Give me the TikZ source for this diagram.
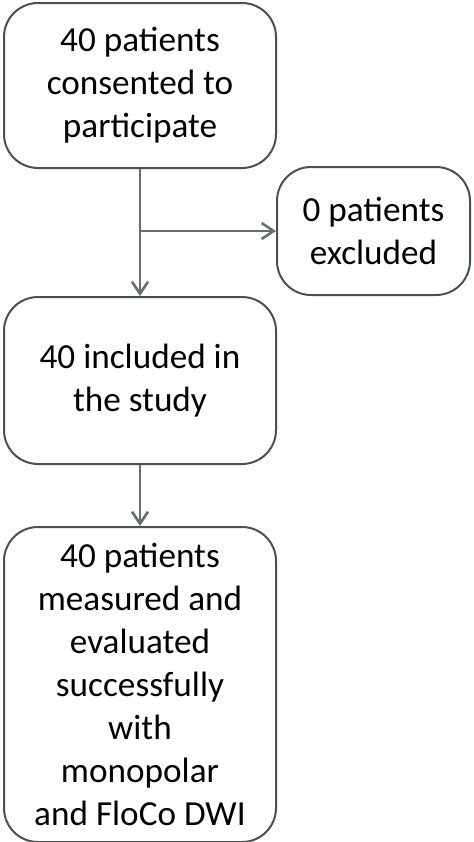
\documentclass[tikz,border=0pt]{standalone}
\usepackage{fontspec}
\setmainfont{Carlito}
\usetikzlibrary{positioning, arrows.meta}
\definecolor{boxline}{RGB}{75,80,80}
\definecolor{arrline}{RGB}{100,112,112}

\begin{document}
\begin{tikzpicture}[>={Straight Barb[length=6pt,width=8pt]},line width=1.3pt,
    box/.style={draw=boxline, line width=1pt, rounded corners=17pt, align=center,
        minimum width=136pt, font=\fontsize{17.6}{21.5}\selectfont},
    flow/.style={->, draw=arrline}]

    \useasboundingbox (0,0) rectangle (237pt,-421pt);

    \node[box, minimum height=82.5pt] (consent) at (70pt,-42.75pt) {40 patients\\consented to\\participate};
    \node[box, minimum height=83.5pt] (included) [below=63.5pt of consent] {40 included in\\the study};
    \node[box, minimum height=157.5pt] (measured) [below=30.5pt of included] {40 patients\\measured and\\evaluated\\successfully\\with\\monopolar\\and FloCo DWI};
    \node[box, minimum width=96.5pt, minimum height=64pt, anchor=north west] (excluded)
        at ([xshift=-0.5pt,yshift=1.5pt]consent.south east) {0 patients\\excluded};

    \coordinate (split) at (consent.south |- excluded.west);

    \draw[flow] (consent) -- (included);
    \draw[flow] (split) -- (excluded);
    \draw[flow] (included) -- (measured);
\end{tikzpicture}
\end{document}
